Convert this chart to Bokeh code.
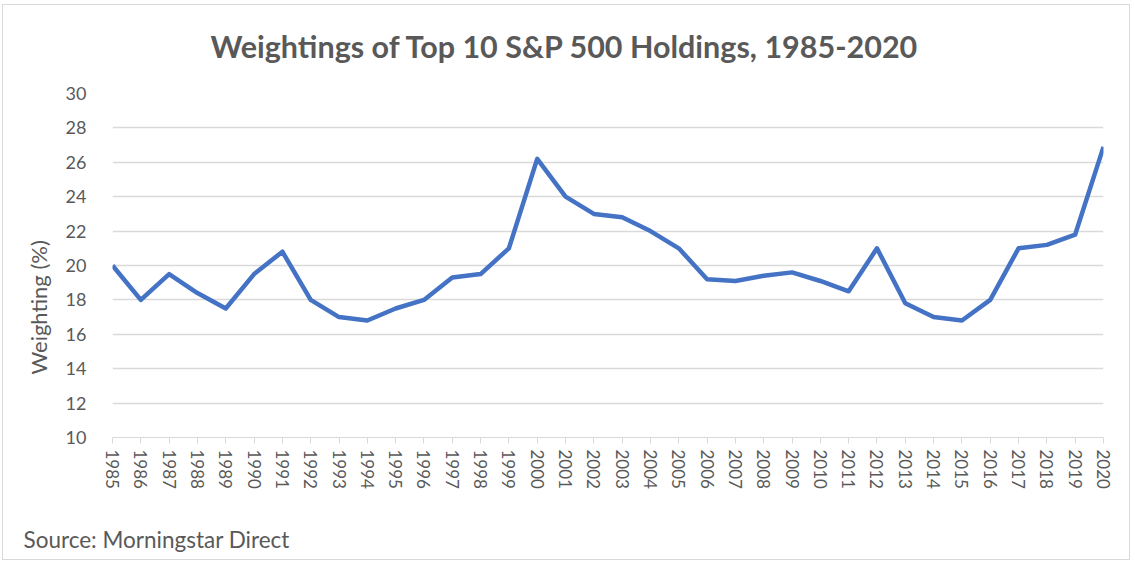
from bokeh.plotting import figure
from bokeh.models import Title, Range1d, FixedTicker
from bokeh.embed import file_html
from bokeh.resources import INLINE

years = list(range(1985, 2021))
weights = [20.0, 18.0, 19.5, 18.4, 17.5, 19.5, 20.8, 18.0, 17.0, 16.8,
           17.5, 18.0, 19.3, 19.5, 21.0, 26.2, 24.0, 23.0, 22.8, 22.0,
           21.0, 19.2, 19.1, 19.4, 19.6, 19.1, 18.5, 21.0, 17.8, 17.0,
           16.8, 18.0, 21.0, 21.2, 21.8, 26.9]
y_ticks = [10, 12, 14, 16, 18, 20, 22, 24, 26, 28, 30]
title_text = "Weightings of Top 10 S&P 500 Holdings, 1985-2020"
source_text = "Source: Morningstar Direct"
y_label = "Weighting (%)"

TEXT = "#595959"
GRID = "#d9d9d9"
FONT = "Lato"

p = figure(width=1128, height=556, output_backend="svg", toolbar_location=None,
           x_range=Range1d(1985, 2020), y_range=Range1d(10, 30),
           min_border_left=109, min_border_right=28, min_border_top=88,
           min_border_bottom=124)
p.outline_line_color = None
p.styles = {"border": "1px solid #d9d9d9", "box-sizing": "border-box",
            "margin-left": "2px", "margin-top": "4px"}

p.line(years, weights, line_color="#4472C4", line_width=4.5, line_join="round")

# x axis
xa = p.xaxis[0]
xa.ticker = FixedTicker(ticks=years)
xa.major_label_orientation = "vertical"
xa.major_label_text_font = FONT
xa.major_label_text_font_size = "17px"
xa.major_label_text_color = TEXT
xa.axis_line_color = GRID
xa.major_tick_line_color = GRID
xa.major_tick_out = 6
xa.major_tick_in = 0
xa.minor_tick_line_color = None
xa.major_label_standoff = 6

# y axis
ya = p.yaxis[0]
ya.ticker = FixedTicker(ticks=y_ticks)
ya.axis_line_color = None
ya.major_tick_line_color = None
ya.minor_tick_line_color = None
ya.major_label_text_font = FONT
ya.major_label_text_font_size = "18px"
ya.major_label_text_color = TEXT
ya.major_label_standoff = 20

p.xgrid.grid_line_color = None
p.ygrid.ticker = FixedTicker(ticks=y_ticks)
p.ygrid.grid_line_color = GRID
p.ygrid.grid_line_width = 1.5


def spacer(px, size="10px"):
    # a blank (white space) title that only reserves room in a side panel
    return Title(text=" ", text_font_size=size, standoff=px, text_color="white")


# top: spacer next to the frame, then the title
p.add_layout(spacer(17), "above")
p.add_layout(Title(text=title_text, align="left", offset=98, standoff=0,
                   text_font=FONT, text_font_style="bold", text_font_size="30.5px",
                   text_color=TEXT), "above")

# left: axis, spacer, axis title
p.add_layout(spacer(0, "8px"), "left")
p.add_layout(Title(text=y_label, align="left", offset=63, standoff=0,
                   text_font=FONT, text_font_style="normal", text_font_size="22px",
                   text_color=TEXT), "left")

# bottom: axis, spacer, source note
p.add_layout(spacer(19), "below")
p.add_layout(Title(text=source_text, align="left", offset=-89, standoff=0,
                   text_font=FONT, text_font_style="normal", text_font_size="22.5px",
                   text_color=TEXT), "below")

open("out.html", "w").write(file_html(p, INLINE))
